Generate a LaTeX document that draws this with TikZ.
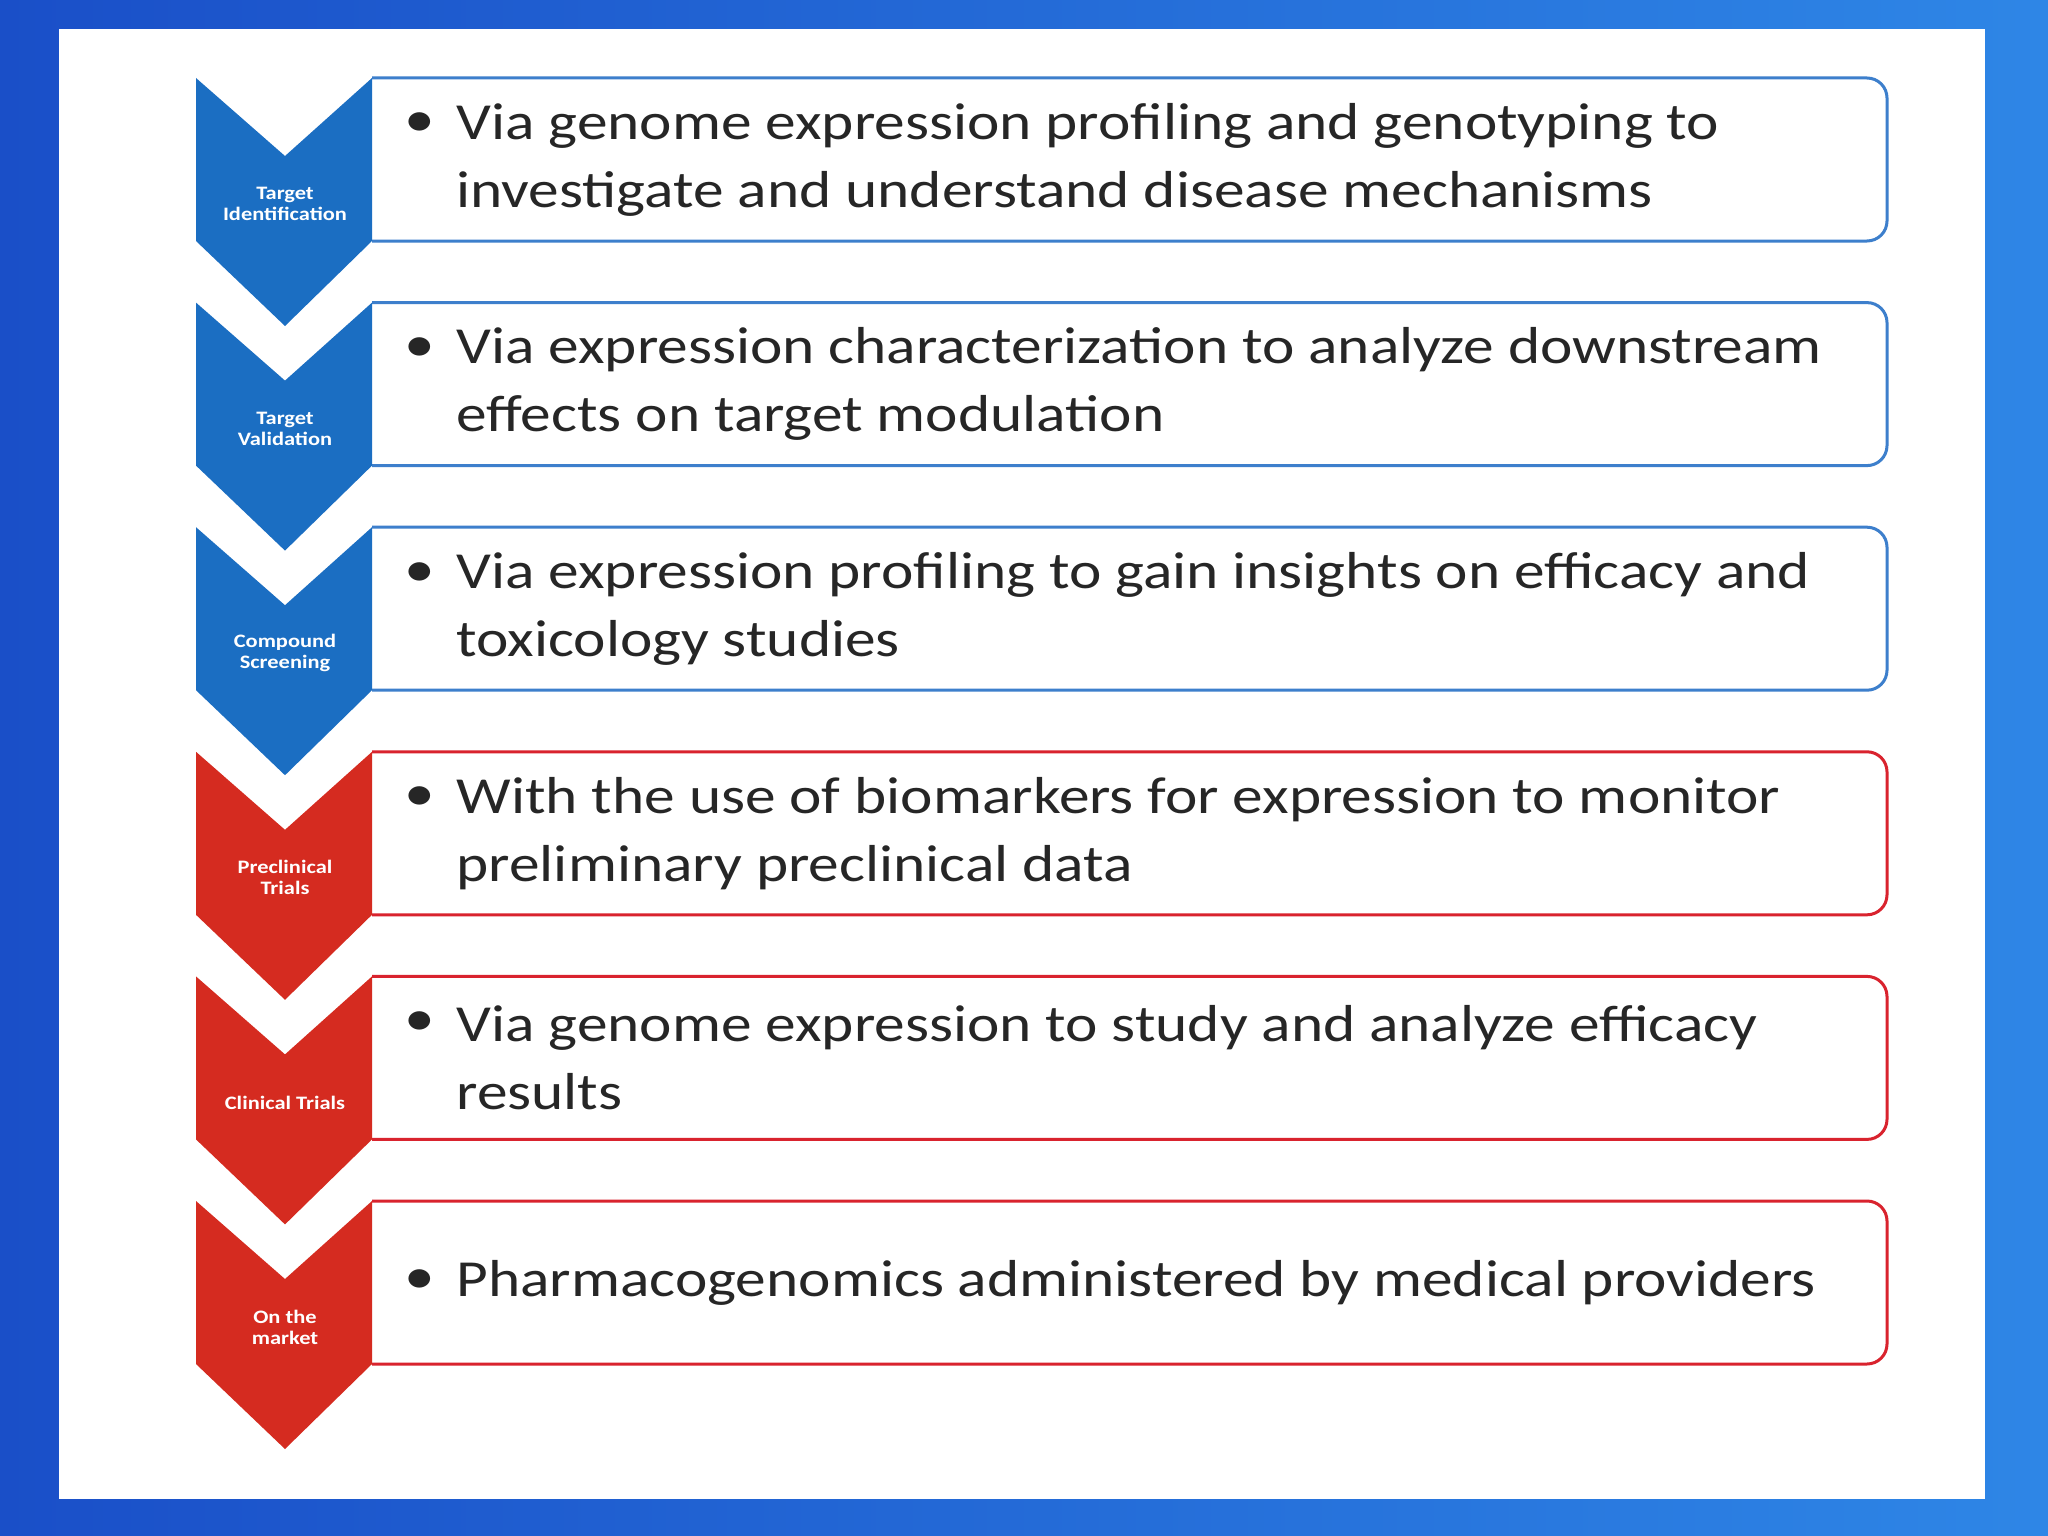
\documentclass[tikz,border=0pt]{standalone}
\usepackage{fontspec}
\setmainfont[FakeStretch=1.18]{Carlito}
\begin{document}
\begin{tikzpicture}[x=1pt,y=-1pt,
  txtbox/.style={line width=3pt,rounded corners=20pt,fill=white},
  lbl/.style={text=white,font=\fontsize{19}{21}\selectfont\bfseries,align=center},
  body/.style={anchor=west,align=left,font=\fontsize{52}{68}\selectfont,text=black!85},
  bul/.style={font=\fontsize{52}{68}\selectfont,text=black!85}]
\definecolor{cblue}{HTML}{1B6EC2}
\definecolor{cred}{HTML}{D52B20}
\definecolor{bblue}{HTML}{3D7FCC}
\definecolor{bred}{HTML}{D9232E}
\definecolor{bgA}{HTML}{1A4FC8}
\definecolor{bgB}{HTML}{2E86E6}
\useasboundingbox (0,0) rectangle (2048,1536);
\shade[left color=bgA,right color=bgB] (0,0) rectangle (2048,1536);
\fill[white] (59,29) rectangle (1985,1499);
\foreach \i/\c/\b/\l/\t in {
 0/cblue/bblue/{Target\\Identification}/{Via genome expression profiling and genotyping to\\investigate and understand disease mechanisms},
 1/cblue/bblue/{Target\\Validation}/{Via expression characterization to analyze downstream\\effects on target modulation},
 2/cblue/bblue/{Compound\\Screening}/{Via expression profiling to gain insights on efficacy and\\toxicology studies},
 3/cred/bred/{Preclinical\\Trials}/{With the use of biomarkers for expression to monitor\\preliminary preclinical data},
 4/cred/bred/{Clinical Trials}/{Via genome expression to study and analyze efficacy\\results},
 5/cred/bred/{On the\\market}/{Pharmacogenomics administered by medical providers}}{
  \pgfmathsetmacro{\yt}{78+224.6*\i}
  \begin{scope}
    \clip (372,\yt-5) rectangle (1900,\yt+170);
    \draw[txtbox,draw=\b] (330,\yt) rectangle (1887,\yt+163);
  \end{scope}
  \fill[\c] (196,\yt) -- (285,\yt+78) -- (372,\yt) -- (372,\yt+163) -- (285,\yt+248) -- (196,\yt+163) -- cycle;
  \node[lbl] (lab\i) at (285,\yt+126) {\l};
  \node[body] (txt\i) at (453,\yt+81.5) {\t};
}
\foreach \i in {0,1,2,3,4}{
  \pgfmathsetmacro{\yt}{78+224.6*\i}
  \node[bul] (b\i) at (420,\yt+47) {\textbullet};
}
\node[bul] (b5) at (420,1281.5) {\textbullet};
\end{tikzpicture}
\end{document}
